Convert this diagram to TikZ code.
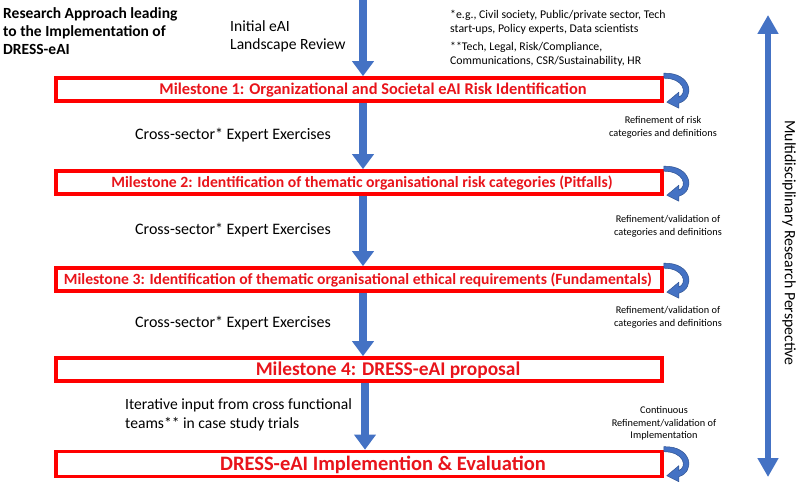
\documentclass[tikz,border=0pt]{standalone}
\usepackage{fontspec}
\setmainfont{Carlito}
\usetikzlibrary{arrows.meta}
\definecolor{flowblue}{HTML}{4472C4}
\definecolor{darkblue}{HTML}{2F528F}
\definecolor{boxred}{HTML}{FF0000}
\definecolor{txtred}{HTML}{E8141B}
\tikzset{
  msbox/.style={draw=boxred, line width=3.6pt, minimum width=606pt, minimum height=23pt, inner sep=0pt},
  mstext/.style={text=txtred, inner sep=0pt, anchor=center},
  flow/.style={draw=flowblue, line width=8pt, -{Triangle[width=21pt,length=15pt]}},
  vflow/.style={draw=flowblue, line width=6pt, {Triangle[width=20pt,length=19pt]}-{Triangle[width=20pt,length=19pt]}},
  loopar/.style={fill=flowblue, draw=darkblue, line width=0.5pt, line join=round},
  lbl/.style={font=\fontsize{16}{19}\selectfont, inner sep=0pt, align=left},
  note/.style={font=\fontsize{10.3}{12.5}\selectfont, inner sep=0pt, align=center},
  topnote/.style={font=\fontsize{11.8}{14}\selectfont, inner sep=0pt, align=left, anchor=north west},
}
\begin{document}
\begin{tikzpicture}[x=1pt,y=-1pt]
\useasboundingbox (0,0) rectangle (800,486);
% boxes
\node[msbox] (m1) at (359,89.5) {};
\node[msbox] (m2) at (359,182.5) {};
\node[msbox] (m3) at (359,279.5) {};
\node[msbox] (m4) at (359,369.5) {};
\node[msbox, minimum height=25pt] (m5) at (359,464) {};
% box texts
\node[mstext, font=\bfseries\fontsize{16.4}{19}\selectfont] (t1) at (373,90) {Milestone 1: Organizational and Societal eAI Risk Identification};
\node[mstext, font=\bfseries\fontsize{15.7}{18}\selectfont] (t2) at (362,183) {Milestone 2: Identification of thematic organisational risk categories (Pitfalls)};
\node[mstext, font=\bfseries\fontsize{15.6}{18}\selectfont] (t3) at (358,280) {Milestone 3: Identification of thematic organisational ethical requirements (Fundamentals)};
\node[mstext, font=\bfseries\fontsize{19.4}{22}\selectfont] (t4) at (388,370) {Milestone 4: DRESS-eAI proposal};
\node[mstext, font=\bfseries\fontsize{20.5}{24}\selectfont] (t5) at (383,465) {DRESS-eAI Implemention \& Evaluation};
% main flow
\coordinate (top) at (363,0);
\draw[flow] (top) -- (top |- m1.north);
\draw[flow] (top |- m1.south) -- (top |- m2.north);
\draw[flow] (top |- m2.south) -- (top |- m3.north);
\draw[flow] (top |- m3.south) -- (top |- m4.north);
\draw[flow] ([xshift=2pt]top |- m4.south) -- ([xshift=2pt]top |- m5.north);
% loop arrows
\foreach \b in {m1,m2,m3,m5}{
  \begin{scope}[shift={(\b.north east)}]
  \path[loopar] (0,-3) .. controls (28,-4) and (32,22) .. (15,27) -- (15,32) -- (3,26) -- (15,16) -- (15,21) .. controls (24,17) and (20,2) .. (0,2) -- cycle;
  \end{scope}
}
% vertical perspective arrow
\coordinate (vt) at (768,15);
\coordinate (vb) at (768,477);
\draw[vflow] (vt) -- (vb);
\node[font=\fontsize{15.8}{19}\selectfont, rotate=-90, inner sep=0pt] (mrp) at (789,243) {Multidisciplinary Research Perspective};
% title
\node[lbl, font=\bfseries\fontsize{15.5}{18}\selectfont, anchor=north west] (title) at (3,7) {Research Approach leading\\to the Implementation of\\DRESS-eAI};
\node[lbl, font=\fontsize{15.6}{18}\selectfont, anchor=north west] (init) at (230,20) {Initial eAI\\Landscape Review};
% top notes
\node[topnote] (n1) at (450,9.5) {*e.g., Civil society, Public/private sector, Tech\\start-ups, Policy experts, Data scientists};
\node[topnote] (n2) at (450,41.5) {**Tech, Legal, Risk/Compliance,\\Communications, CSR/Sustainability, HR};
% side labels
\node[lbl, anchor=west] (c1) at (135,135) {Cross-sector* Expert Exercises};
\node[lbl, anchor=west] (c2) at (135,230) {Cross-sector* Expert Exercises};
\node[lbl, anchor=west] (c3) at (135,323) {Cross-sector* Expert Exercises};
\node[lbl, font=\fontsize{15.6}{19.5}\selectfont, anchor=west] (c4) at (125,415) {Iterative input from cross functional\\teams** in case study trials};
% right notes
\node[note] (r1) at (663,127.5) {Refinement of risk\\categories and definitions};
\node[note] (r2) at (668,226.5) {Refinement/validation of\\categories and definitions};
\node[note] (r3) at (668,317.5) {Refinement/validation of\\categories and definitions};
\node[note] (r4) at (664,423.5) {Continuous\\Refinement/validation of\\Implementation};
\end{tikzpicture}
\end{document}
